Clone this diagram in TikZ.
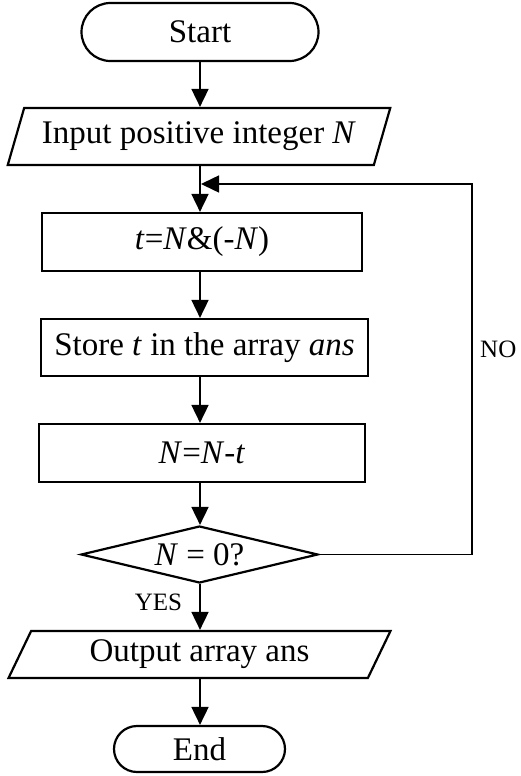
\documentclass[tikz,border=0pt]{standalone}
\usepackage{fontspec}
\setmainfont{Liberation Serif}
\usetikzlibrary{arrows.meta,shapes.geometric}
\begin{document}
\begin{tikzpicture}[x=1pt,y=-1pt,
  box/.style={draw,line width=2.2pt,rectangle,minimum height=58pt,inner sep=0pt,font=\fontsize{33}{38}\selectfont},
  term/.style={draw,line width=2.2pt,rectangle,inner sep=0pt,font=\fontsize{33}{38}\selectfont},
  io/.style={draw,line width=2.2pt,trapezium,trapezium left angle=63,trapezium right angle=117,trapezium stretches=true,inner sep=0pt,font=\fontsize{33}{38}\selectfont},
  dec/.style={draw,line width=2.2pt,diamond,aspect=4.16,inner sep=0pt,font=\fontsize{33}{38}\selectfont},
  arr/.style={line width=1.8pt,-{Triangle[length=18pt,width=17pt]}},
  lbl/.style={font=\fontsize{25}{30}\selectfont,inner sep=0pt}]
\useasboundingbox[fill=white] (0,0) rectangle (520,776);
\node[term,rounded corners=29pt,minimum width=237pt,minimum height=58pt] (start) at (200,32) {Start};
\node[io,minimum width=384pt,minimum height=57pt] (in) at (199,136.5) {Input positive integer \textit{N}};
\node[box,minimum width=320pt] (b1) at (202,242) {\textit{t}=\textit{N}\&(-\textit{N})};
\node[box,minimum width=327pt,minimum height=57pt] (b2) at (204.5,347.5) {Store \textit{t} in the array \textit{ans}};
\node[box,minimum width=326pt] (b3) at (202,453) {\textit{N}=\textit{N}-\textit{t}};
\node[dec,minimum width=237pt,minimum height=57pt] (d) at (199.5,554.5) {\textit{N} = 0?};
\node[io,minimum width=383pt,minimum height=47pt] (out) at (199.5,654.5) {Output array ans};
\node[term,rounded corners=23pt,minimum width=171pt,minimum height=46pt] (end) at (199.5,749) {End};
\coordinate (mg) at (200,184);
\coordinate (lc) at (472,184);
\draw[arr] (start.south -| mg) -- (in.north -| mg);
\draw[arr] (in.south -| mg) -- (b1.north -| mg);
\draw[arr] (b1.south -| mg) -- (b2.north -| mg);
\draw[arr] (b2.south -| mg) -- (b3.north -| mg);
\draw[arr] (b3.south -| mg) -- (d.north -| mg);
\draw[arr] (d.south -| mg) -- node[lbl,pos=0.4,left=17pt] (yes) {YES} (out.north -| mg);
\draw[arr] (out.south -| mg) -- (end.north -| mg);
\draw[line width=1.5pt,-{Triangle[length=18pt,width=17pt]}] (d.east) -| (lc) -- ([xshift=1pt]mg);
\node[lbl,anchor=west] (no) at (480,349) {NO};
\end{tikzpicture}
\end{document}
